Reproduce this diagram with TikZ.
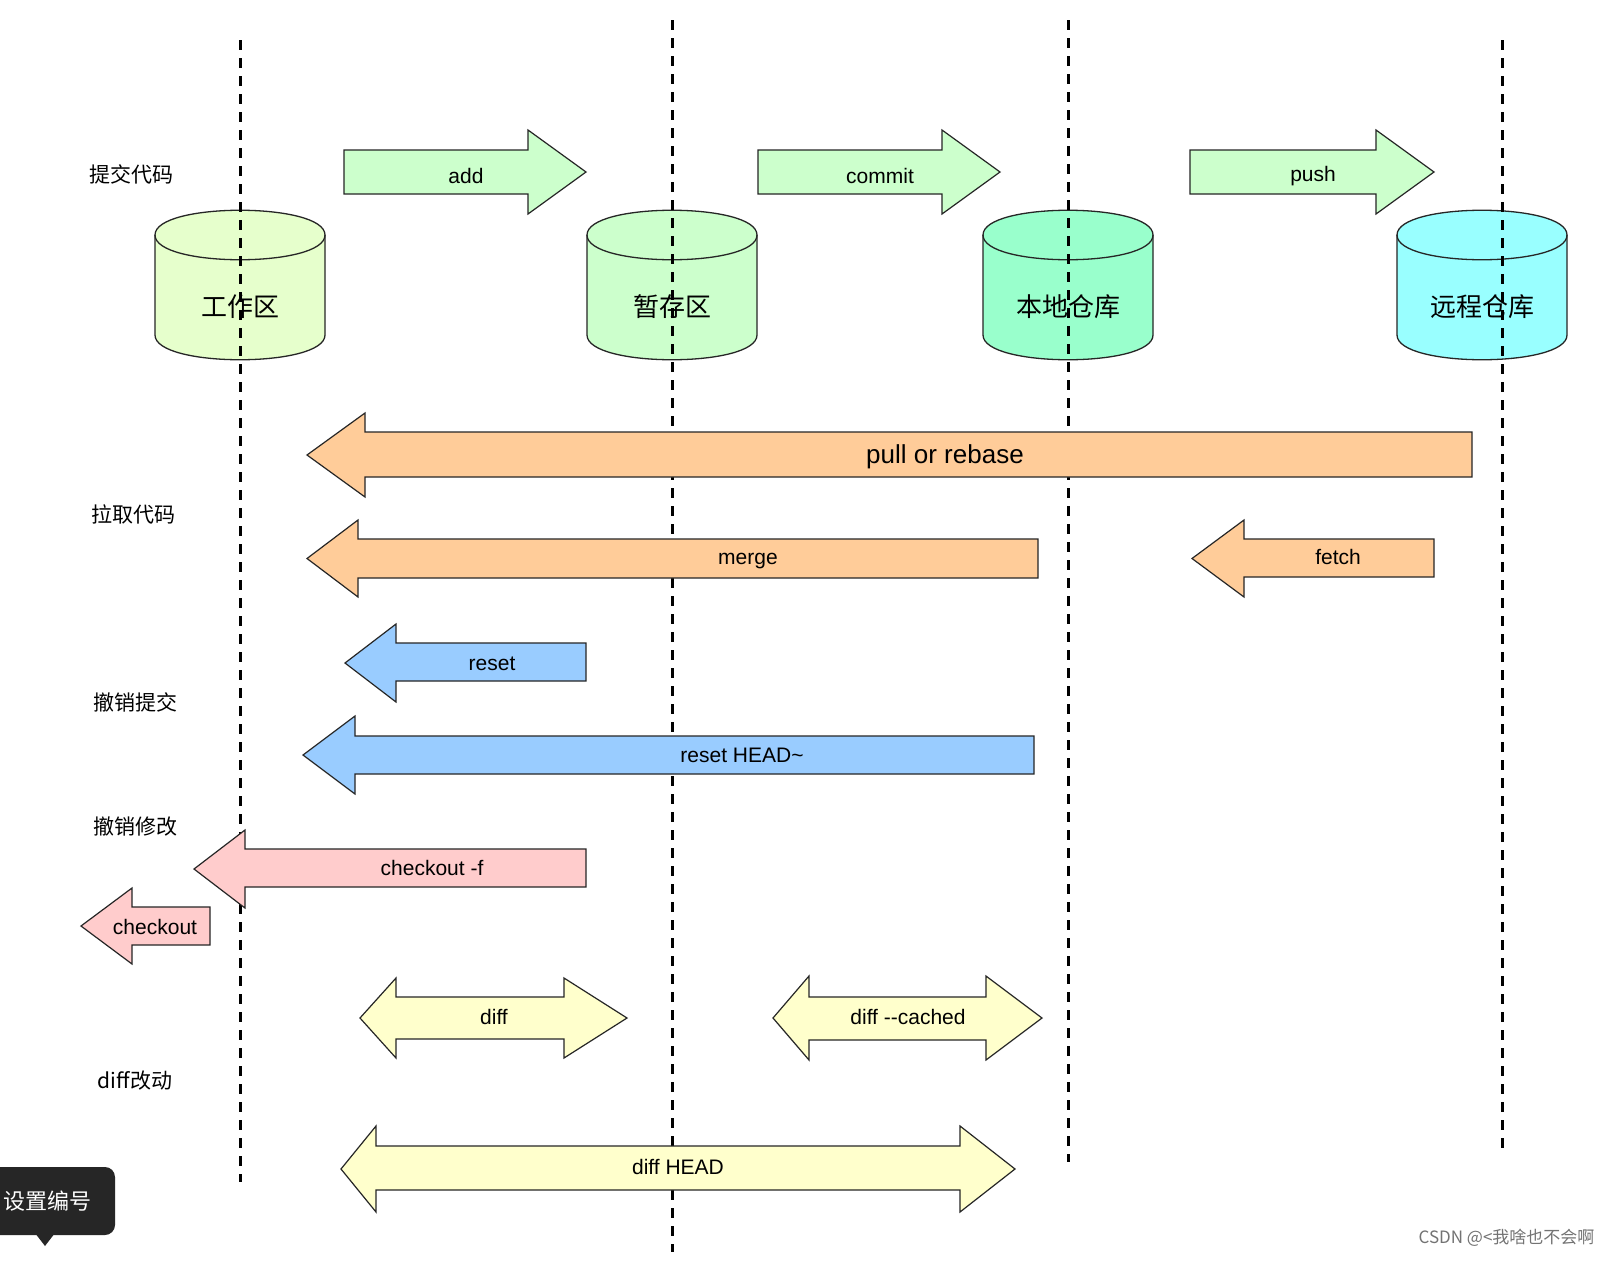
\documentclass[tikz,border=0pt]{standalone}
\usepackage{fontspec}
\setmainfont{Liberation Sans}
\newfontfamily\cjk{Noto Sans CJK SC}
\begin{document}
\begin{tikzpicture}[x=1pt,y=-1pt,
 arr/.style={draw=black!85,line width=1.2pt,line join=miter},
 lbl/.style={font=\fontsize{21}{21}\selectfont},
 side/.style={font=\cjk\fontsize{21}{21}\selectfont},
 vl/.style={line width=3pt,dash pattern=on 10pt off 8pt},
 cyl/.style={draw=black!85,line width=1.3pt}]
\useasboundingbox (0,0) rectangle (1602,1282);
\fill[white] (0,0) rectangle (1602,1282);
\definecolor{cA}{HTML}{E6FFCC}\definecolor{cB}{HTML}{CCFFCC}
\definecolor{cC}{HTML}{99FFCC}\definecolor{cD}{HTML}{99FFFF}
\definecolor{gr}{HTML}{CCFFCC}\definecolor{og}{HTML}{FFCC99}
\definecolor{bl}{HTML}{99CCFF}\definecolor{pk}{HTML}{FFCCCC}
\definecolor{yl}{HTML}{FFFFCC}
% cylinders
\foreach \cx/\c/\t/\n in {240/cA/工作区/cw,672/cB/暂存区/cs,1068/cC/本地仓库/cl,1482/cD/远程仓库/cr}{
 \path[cyl,fill=\c] (\cx-85,235) -- (\cx-85,335) .. controls (\cx-85,368) and (\cx+85,368) .. (\cx+85,335) -- (\cx+85,235) .. controls (\cx+85,202) and (\cx-85,202) .. cycle;
 \draw[cyl] (\cx-85,235) .. controls (\cx-85,268) and (\cx+85,268) .. (\cx+85,235);
 \node[font=\cjk\fontsize{26}{26}\selectfont] (\n) at (\cx,307) {\t};
}
% dashed lines
\coordinate (l1a) at (240,40); \coordinate (l1b) at (240,1182);
\coordinate (l2a) at (672,20); \coordinate (l2b) at (672,1252);
\coordinate (l3a) at (1068,20); \coordinate (l3b) at (1068,1162);
\coordinate (l4a) at (1502,40); \coordinate (l4b) at (1502,1152);
\draw[vl] (l1a)--(l1b); \draw[vl] (l2a)--(l2b); \draw[vl] (l3a)--(l3b); \draw[vl] (l4a)--(l4b);
% right arrows
\foreach \a/\b/\c/\t/\n in {344/528/586/add/aadd,758/942/1000/commit/acommit,1190/1376/1434/push/apush}{
 \draw[arr,fill=gr] (\a,150)--(\b,150)--(\b,130)--(\c,172)--(\b,214)--(\b,194)--(\a,194)--cycle;
 \node[lbl] (\n) at ({(\a+\b)/2+30},176) {\t};
}
% left arrows
\foreach \tp/\bs/\ht/\hb/\bt/\bb/\r/\c/\t/\lx/\ly/\n in {
 307/365/413/497/432/477/1472/og/{\fontsize{26}{26}\selectfont pull or rebase}/945/466/apull,
 307/358/520/597/539/578/1038/og/merge/748/567/amerge,
 1192/1244/520/597/539/577/1434/og/fetch/1338/565/afetch,
 345/396/624/702/643/681/586/bl/reset/492/671/areset,
 303/355/716/794/736/774/1034/bl/reset HEAD\textasciitilde/742/763/aresetH,
 194/245/830/908/849/887/586/pk/checkout -f/432/876/acof,
 81/132/888/964/907/945/210/pk/checkout/155/935/aco}{
 \draw[arr,fill=\c] (\tp,{(\ht+\hb)/2})--(\bs,\ht)--(\bs,\bt)--(\r,\bt)--(\r,\bb)--(\bs,\bb)--(\bs,\hb)--cycle;
 \node[lbl] (\n) at (\lx,\ly) {\t};
}
% double arrows
\foreach \l/\lb/\rb/\r/\ht/\hb/\bt/\bb/\t/\lx/\ly/\n in {
 360/396/564/627/978/1058/997/1039/diff/494/1025/adiff,
 773/809/986/1042/976/1060/997/1040/diff -{}-cached/908/1025/adc,
 341/376/960/1015/1126/1212/1146/1190/diff HEAD/678/1175/adh}{
 \draw[arr,fill=yl] (\l,{(\ht+\hb)/2})--(\lb,\ht)--(\lb,\bt)--(\rb,\bt)--(\rb,\ht)--(\r,{(\ht+\hb)/2})--(\rb,\hb)--(\rb,\bb)--(\lb,\bb)--(\lb,\hb)--cycle;
 \node[lbl] (\n) at (\lx,\ly) {\t};
}
% side labels
\node[side] (s1) at (131,174) {提交代码};
\node[side] (s2) at (133,514) {拉取代码};
\node[side] (s3) at (135,702) {撤销提交};
\node[side] (s4) at (135,826) {撤销修改};
\node[side] (s5) at (135,1081) {diff改动};
% overlay
\fill[black!85,rounded corners=10pt] (-20,1167) rectangle (115,1235);
\fill[black!85] (35,1233)--(55,1233)--(45,1246)--cycle;
\node[font=\cjk\fontsize{22}{22}\selectfont,text=white,anchor=west] (tip) at (0,1201) {设置编号};
\node[font=\cjk\fontsize{17}{17}\selectfont,text=black!55,anchor=east] (csdn) at (1598,1238) {CSDN @<我啥也不会啊};
\end{tikzpicture}
\end{document}
